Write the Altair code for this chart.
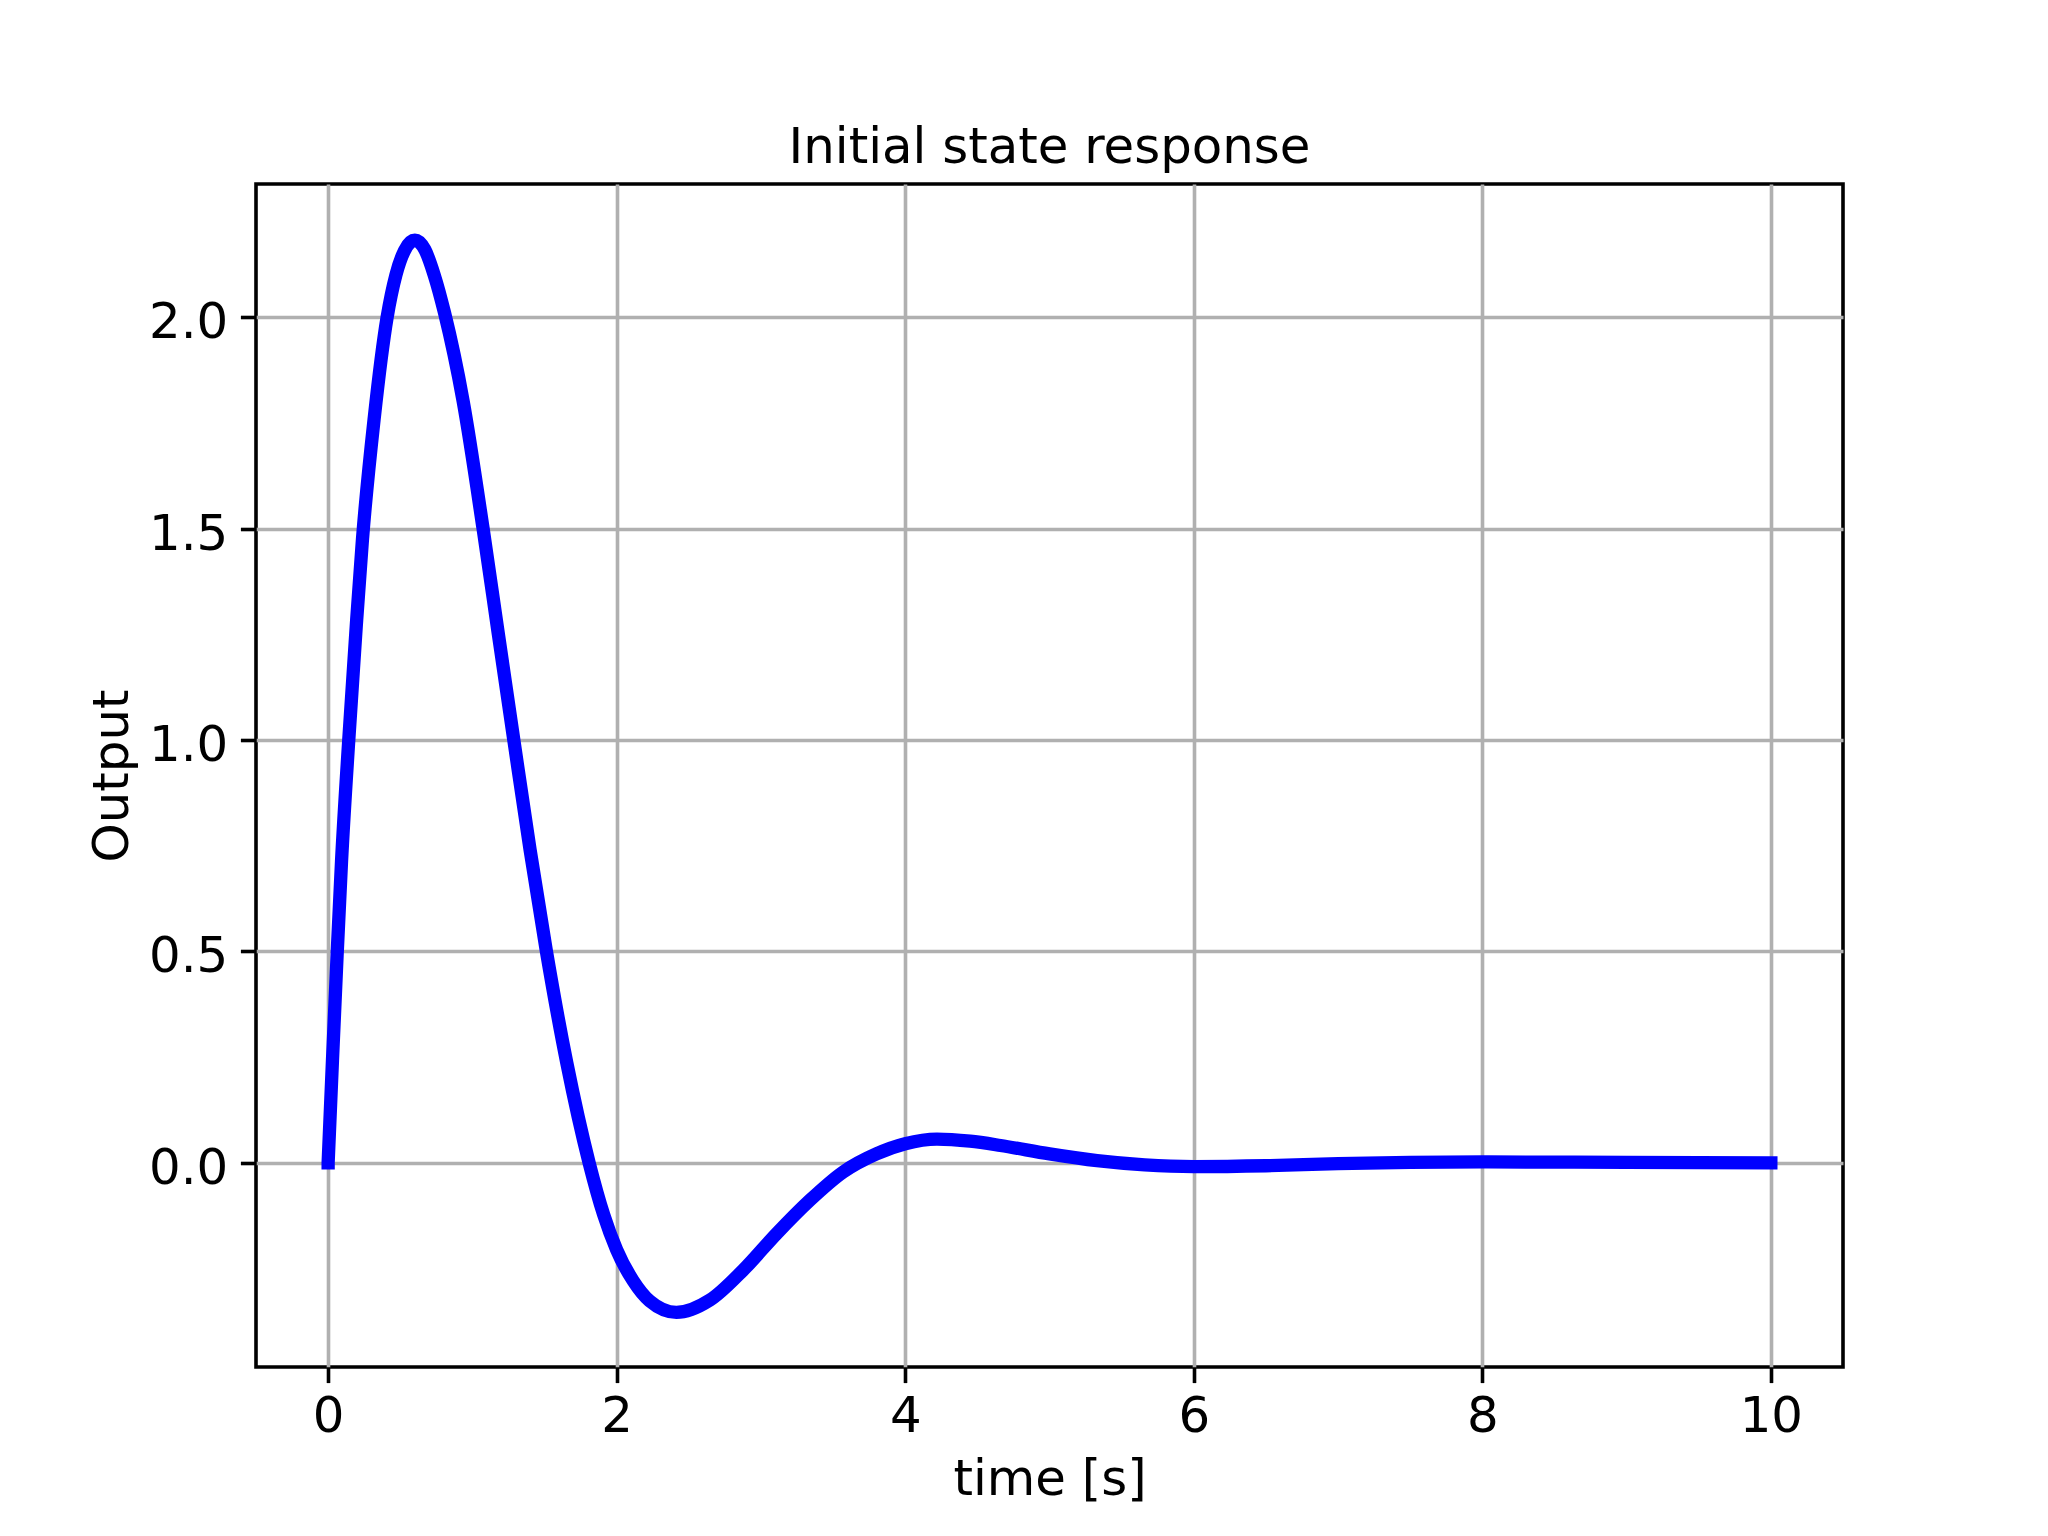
import altair as alt
import pandas as pd

# Values
times = [0.0, 0.030, 0.062, 0.093, 0.143, 0.195, 0.238, 0.319, 0.409, 0.47,
         0.53, 0.601, 0.67, 0.735, 0.807, 0.936, 1.074, 1.18, 1.287, 1.40,
         1.513, 1.655, 1.809, 1.91, 2.0, 2.114, 2.229, 2.414, 2.645, 2.876,
         3.107, 3.338, 3.569, 3.80, 4.0, 4.22, 4.45, 4.66, 5.0, 5.33,
         5.66, 6.0, 6.5, 7.0, 7.5, 8.0, 9.0, 10.0]
outputs = [0.0, 0.242, 0.49, 0.714, 1.0, 1.27, 1.475, 1.76, 2.0, 2.10,
           2.158, 2.182, 2.16, 2.10, 2.01, 1.801, 1.5, 1.25, 1.0, 0.74,
           0.5, 0.235, 0.0, -0.123, -0.206, -0.279, -0.327, -0.354, -0.325, -0.254,
           -0.168, -0.089, -0.022, 0.021, 0.045, 0.056, 0.051, 0.041, 0.021, 0.005,
           -0.005, -0.009, -0.007, -0.002, 0.001, 0.002, 0.001, 0.0]
x_ticks = [0, 2, 4, 6, 8, 10]
y_ticks = [0.0, 0.5, 1.0, 1.5, 2.0]
title_text = "Initial state response"
x_title = "time [s]"
y_title = "Output"

df = pd.DataFrame({"t": times, "y": outputs})

FONT = "DejaVu Sans"
FS = 49.8

chart = alt.Chart(df).mark_line(
    color="#0000ff", strokeWidth=13.3, strokeCap="square", interpolate="monotone"
).encode(
    x=alt.X("t:Q", scale=alt.Scale(domain=[-0.5, 10.5], nice=False, zero=False),
            axis=alt.Axis(values=x_ticks, title=x_title, format="d",
                          grid=True, gridColor="#b0b0b0", gridWidth=3.6,
                          domain=False, ticks=True, tickColor="black", tickWidth=3.6, tickSize=15.6,
                          labelFont=FONT, labelFontSize=FS, labelColor="black",
                          labelBaseline="alphabetic", labelPadding=48.4,
                          titleFont=FONT, titleFontSize=FS, titleFontWeight="normal", titleColor="black",
                          titleBaseline="alphabetic", titleY=127)),
    y=alt.Y("y:Q", scale=alt.Scale(domain=[-0.483, 2.315], nice=False, zero=False),
            axis=alt.Axis(values=y_ticks, title=y_title, format=".1f",
                          grid=True, gridColor="#b0b0b0", gridWidth=3.6,
                          domain=False, ticks=True, tickColor="black", tickWidth=3.6, tickSize=15.6,
                          labelFont=FONT, labelFontSize=FS, labelColor="black",
                          labelBaseline="alphabetic", labelOffset=20.5, labelPadding=12.7,
                          titleFont=FONT, titleFontSize=FS, titleFontWeight="normal", titleColor="black",
                          titleBaseline="middle", titleX=-144, titleAngle=-90)),
).properties(
    width=1587,
    height=1183,
    title=alt.TitleParams(title_text, font=FONT, fontSize=FS, fontWeight="normal",
                          color="black", anchor="middle", baseline="alphabetic", offset=-29),
    autosize=alt.AutoSizeParams(type="none"),
    padding={"left": 248, "top": 176, "right": 150, "bottom": 150},
).configure(
    background="white",
    view=alt.ViewConfig(stroke="black", strokeWidth=3.6, fill="white"),
)

chart.save("out.html", embed_options={"renderer": "svg", "actions": False})
